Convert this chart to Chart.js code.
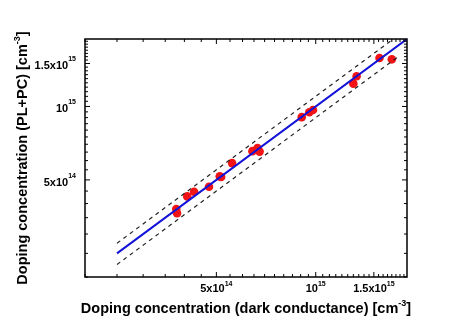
<!DOCTYPE html>
<html>
<head>
<meta charset="utf-8">
<script src="https://cdn.jsdelivr.net/npm/chart.js@4.4.0/dist/chart.umd.min.js"></script>
<style>
  html, body { margin: 0; padding: 0; background: #fff; }
  #wrap { width: 474px; height: 332px; }
</style>
</head>
<body>
<div id="wrap"><canvas id="chart" width="474" height="332"></canvas></div>
<script>
// doping from dark conductance (x) vs from PL+PC (y), cm^-3
const darkCond = [3.78e14, 3.80e14, 4.08e14, 4.28e14, 4.75e14, 5.12e14, 5.17e14, 5.58e14, 6.43e14, 6.66e14, 6.76e14, 9.07e14, 9.56e14, 9.81e14, 1.30e15, 1.33e15, 1.56e15, 1.70e15];
const plpc = [3.80e14, 3.65e14, 4.28e14, 4.47e14, 4.69e14, 5.17e14, 5.14e14, 5.86e14, 6.56e14, 6.76e14, 6.53e14, 9.04e14, 9.47e14, 9.67e14, 1.24e15, 1.33e15, 1.58e15, 1.56e15];

// y = x and the +/-10% band
const fitX = [2.5e14, 1.89e15];
const fitY = [2.5e14, 1.89e15];
const upperX = [2.5e14, 1.718e15];
const upperY = [2.75e14, 1.89e15];
const lowerX = [2.5e14, 1.8e15];
const lowerY = [2.25e14, 1.62e15];

const axisMin = 2e14;
const axisMax = 1.89e15;
const tickValues = [5e14, 1e15, 1.5e15];
const tickBase = ['5x10', '10', '1.5x10'];
const tickExp = ['14', '15', '15'];
const minorStep = 0.5e14;

const FONT = '"Liberation Sans", Arial, Helvetica, sans-serif';

function toXY(xs, ys) {
  return xs.map((v, i) => ({ x: v, y: ys[i] }));
}

// draws a run of text pieces, each with its own font and vertical offset
function drawRich(ctx, parts, x, y, align) {
  let w = 0;
  parts.forEach((p) => { ctx.font = p.font; p.w = ctx.measureText(p.t).width; w += p.w; });
  let cx = align === 'right' ? x - w : align === 'center' ? x - w / 2 : x;
  ctx.textAlign = 'left';
  ctx.textBaseline = 'alphabetic';
  parts.forEach((p) => {
    ctx.font = p.font;
    ctx.fillText(p.t, cx, y + (p.dy || 0));
    cx += p.w;
  });
}

const framePlugin = {
  id: 'frame',
  afterDraw(chart) {
    const { ctx, chartArea: a, scales: { x, y } } = chart;
    ctx.save();
    ctx.strokeStyle = '#000';
    ctx.fillStyle = '#000';

    // inward ticks on all four sides
    ctx.lineWidth = 1;
    ctx.beginPath();
    for (let i = 0; ; i++) {
      const v = axisMin + i * minorStep;
      if (v > axisMax) break;
      const major = tickValues.some((t) => Math.abs(t - v) < 1e12);
      const len = major ? 5 : 3;
      const px = x.getPixelForValue(v);
      const py = y.getPixelForValue(v);
      ctx.moveTo(px, a.bottom); ctx.lineTo(px, a.bottom - len);
      ctx.moveTo(px, a.top); ctx.lineTo(px, a.top + len);
      ctx.moveTo(a.left, py); ctx.lineTo(a.left + len, py);
      ctx.moveTo(a.right, py); ctx.lineTo(a.right - len, py);
    }
    ctx.stroke();

    ctx.lineWidth = 1.5;
    ctx.strokeRect(a.left, a.top, a.right - a.left, a.bottom - a.top);

    // tick labels
    const fb = 'bold 11px ' + FONT;
    const fe = 'bold 7px ' + FONT;
    tickValues.forEach((v, i) => {
      const px = x.getPixelForValue(v);
      const py = y.getPixelForValue(v);
      drawRich(ctx, [{ t: tickBase[i], font: fb }, { t: tickExp[i], font: fe, dy: -6 }], px, a.bottom + 15, 'center');
      drawRich(ctx, [{ t: tickBase[i], font: fb }, { t: tickExp[i], font: fe, dy: -8 }], a.left - 9, py + 6, 'right');
    });

    // axis titles
    const ft = 'bold 14.5px ' + FONT;
    const fs = 'bold 9px ' + FONT;
    const cxMid = (a.left + a.right) / 2;
    drawRich(ctx, [
      { t: 'Doping concentration (dark conductance) [cm', font: ft },
      { t: '-3', font: fs, dy: -7 },
      { t: ']', font: ft }
    ], cxMid, 313, 'center');

    ctx.translate(26.5, (a.top + a.bottom) / 2);
    ctx.rotate(-Math.PI / 2);
    drawRich(ctx, [
      { t: 'Doping concentration (PL+PC) [cm', font: ft },
      { t: '-3', font: fs, dy: -7 },
      { t: ']', font: ft }
    ], 0, 0, 'center');
    ctx.restore();
  }
};

new Chart(document.getElementById('chart'), {
  type: 'scatter',
  data: {
    datasets: [
      {
        data: toXY(fitX, fitY),
        showLine: true,
        borderColor: '#1212d8',
        borderWidth: 2,
        pointRadius: 0,
        order: 0,
      },
      {
        data: toXY(upperX, upperY),
        showLine: true,
        borderColor: '#222',
        borderWidth: 1.2,
        borderDash: [4, 4],
        pointRadius: 0,
        order: 1,
      },
      {
        data: toXY(lowerX, lowerY),
        showLine: true,
        borderColor: '#222',
        borderWidth: 1.2,
        borderDash: [4, 4],
        pointRadius: 0,
        order: 2,
      },
      {
        data: toXY(darkCond, plpc),
        pointRadius: 4.3,
        pointBackgroundColor: '#f21414',
        pointBorderWidth: 0,
        order: 3,
      },
    ],
  },
  options: {
    responsive: false,
    animation: false,
    devicePixelRatio: 1,
    layout: { padding: { top: 39, right: 67, left: 0, bottom: 0 } },
    plugins: {
      legend: { display: false },
      tooltip: { enabled: false },
    },
    scales: {
      x: {
        type: 'logarithmic',
        min: axisMin,
        max: axisMax,
        grid: { display: false },
        border: { display: false },
        ticks: { display: false },
        afterFit(s) { s.height = 55; },
      },
      y: {
        type: 'logarithmic',
        min: axisMin,
        max: axisMax,
        grid: { display: false },
        border: { display: false },
        ticks: { display: false },
        afterFit(s) { s.width = 85; },
      },
    },
  },
  plugins: [framePlugin],
});
</script>
</body>
</html>
